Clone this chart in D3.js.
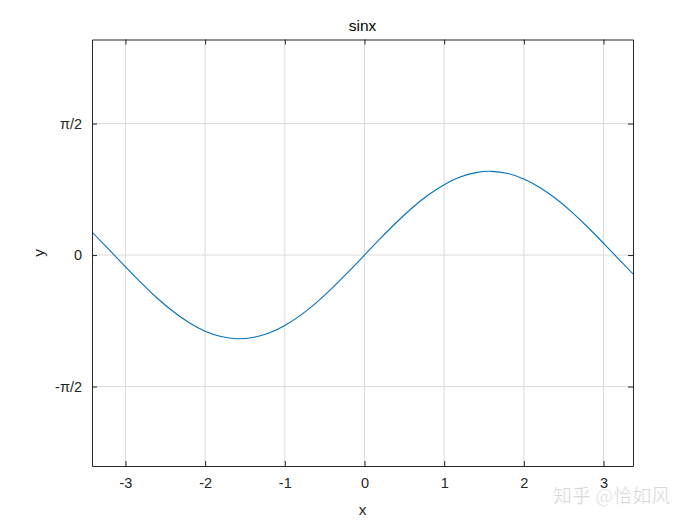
<!DOCTYPE html>
<html>
<head>
<meta charset="utf-8">
<script src="https://cdn.jsdelivr.net/npm/d3@7"></script>
<style>
  body { margin: 0; background: #fff; }
  text { font-family: "Liberation Sans", Arial, sans-serif; }
</style>
</head>
<body>
<div id="chart"></div>
<script>
// values
var xs = [-3.42, -3.2, -3.0, -2.8, -2.6, -2.4, -2.2, -2.0, -1.8, -1.6, -1.4, -1.2, -1.0, -0.8, -0.6, -0.4, -0.2, 0,
          0.2, 0.4, 0.6, 0.8, 1.0, 1.2, 1.4, 1.6, 1.8, 2.0, 2.2, 2.4, 2.6, 2.8, 3.0, 3.2, 3.37];
var ys = [0.275, 0.058, -0.141, -0.335, -0.516, -0.675, -0.808, -0.909, -0.974, -1.0, -0.985, -0.932, -0.841, -0.717, -0.565, -0.389, -0.199, 0,
          0.199, 0.389, 0.565, 0.717, 0.841, 0.932, 0.985, 1.0, 0.974, 0.909, 0.808, 0.675, 0.516, 0.335, 0.141, -0.058, -0.226];
var xTicks = [-3, -2, -1, 0, 1, 2, 3];
var xTickLabels = ["-3", "-2", "-1", "0", "1", "2", "3"];
var yTicks = [-Math.PI / 2, 0, Math.PI / 2];
var yTickLabels = ["-\u03c0/2", "0", "\u03c0/2"];

var width = 700, height = 525;
var plotLeft = 92, plotRight = 633, plotTop = 39.5, plotBottom = 466;

var svg = d3.select("#chart").append("svg")
    .attr("width", width)
    .attr("height", height);

svg.append("rect").attr("width", width).attr("height", height).attr("fill", "#fff");

var x = d3.scaleLinear().domain([-3.42, 3.37]).range([plotLeft, plotRight]);
var y = d3.scaleLinear().domain([-2.52, 2.575]).range([plotBottom, plotTop]);

// grid
svg.append("g").selectAll("line")
    .data(xTicks).enter().append("line")
    .attr("x1", function(d) { return x(d); })
    .attr("x2", function(d) { return x(d); })
    .attr("y1", plotTop).attr("y2", plotBottom)
    .attr("stroke", "#dcdcdc").attr("stroke-width", 1);
svg.append("g").selectAll("line")
    .data(yTicks).enter().append("line")
    .attr("y1", function(d) { return y(d); })
    .attr("y2", function(d) { return y(d); })
    .attr("x1", plotLeft).attr("x2", plotRight)
    .attr("stroke", "#dcdcdc").attr("stroke-width", 1);

// curve
svg.append("clipPath").attr("id", "clip")
    .append("rect").attr("x", plotLeft).attr("y", plotTop)
    .attr("width", plotRight - plotLeft).attr("height", plotBottom - plotTop);

var pts = xs.map(function(d, i) { return [d, ys[i]]; });
var line = d3.line()
    .x(function(d) { return x(d[0]); })
    .y(function(d) { return y(d[1]); })
    .curve(d3.curveNatural);

svg.append("path")
    .datum(pts)
    .attr("clip-path", "url(#clip)")
    .attr("d", line)
    .attr("fill", "none")
    .attr("stroke", "#0072BD")
    .attr("stroke-width", 1.1);

// axes (MATLAB style box, ticks inward)
var tickLen = 5;
var axisX = d3.axisBottom(x).tickValues(xTicks).tickSizeInner(-tickLen).tickSizeOuter(0).tickPadding(12)
    .tickFormat(function(d, i) { return xTickLabels[i]; });
var axisXTop = d3.axisTop(x).tickValues(xTicks).tickSizeInner(-tickLen).tickSizeOuter(0).tickFormat("");
var axisY = d3.axisLeft(y).tickValues(yTicks).tickSizeInner(-tickLen).tickSizeOuter(0).tickPadding(10)
    .tickFormat(function(d, i) { return yTickLabels[i]; });
var axisYRight = d3.axisRight(y).tickValues(yTicks).tickSizeInner(-tickLen).tickSizeOuter(0).tickFormat("");

function styleAxis(g) {
    g.select(".domain").attr("stroke", "#262626").attr("stroke-width", 1);
    g.selectAll(".tick line").attr("stroke", "#262626");
    g.selectAll(".tick text").attr("fill", "#262626").attr("font-size", 14.5)
        .style("font-family", "'Liberation Sans', Arial, sans-serif");
}

svg.append("g").attr("transform", "translate(0," + plotBottom + ")").call(axisX).call(styleAxis);
svg.append("g").attr("transform", "translate(0," + plotTop + ")").call(axisXTop).call(styleAxis);
svg.append("g").attr("transform", "translate(" + plotLeft + ",0)").call(axisY).call(styleAxis);
svg.append("g").attr("transform", "translate(" + plotRight + ",0)").call(axisYRight).call(styleAxis);

// title and labels
svg.append("text")
    .attr("x", (plotLeft + plotRight) / 2).attr("y", 31)
    .attr("text-anchor", "middle")
    .attr("font-size", 15.5).attr("fill", "#000")
    .text("sinx");

svg.append("text")
    .attr("x", (plotLeft + plotRight) / 2).attr("y", 515)
    .attr("text-anchor", "middle")
    .attr("font-size", 15.5).attr("fill", "#262626")
    .text("x");

svg.append("text")
    .attr("transform", "translate(44," + ((plotTop + plotBottom) / 2) + ") rotate(-90)")
    .attr("text-anchor", "middle")
    .attr("font-size", 15.5).attr("fill", "#262626")
    .text("y");

// watermark
svg.append("text")
    .attr("x", 553).attr("y", 503)
    .attr("font-size", 19)
    .style("font-family", "'Noto Sans CJK SC', sans-serif")
    .attr("fill", "#c8c8c8")
    .attr("stroke", "#fff").attr("stroke-width", 0.6)
    .text("知乎 @恰如风");
</script>
</body>
</html>
